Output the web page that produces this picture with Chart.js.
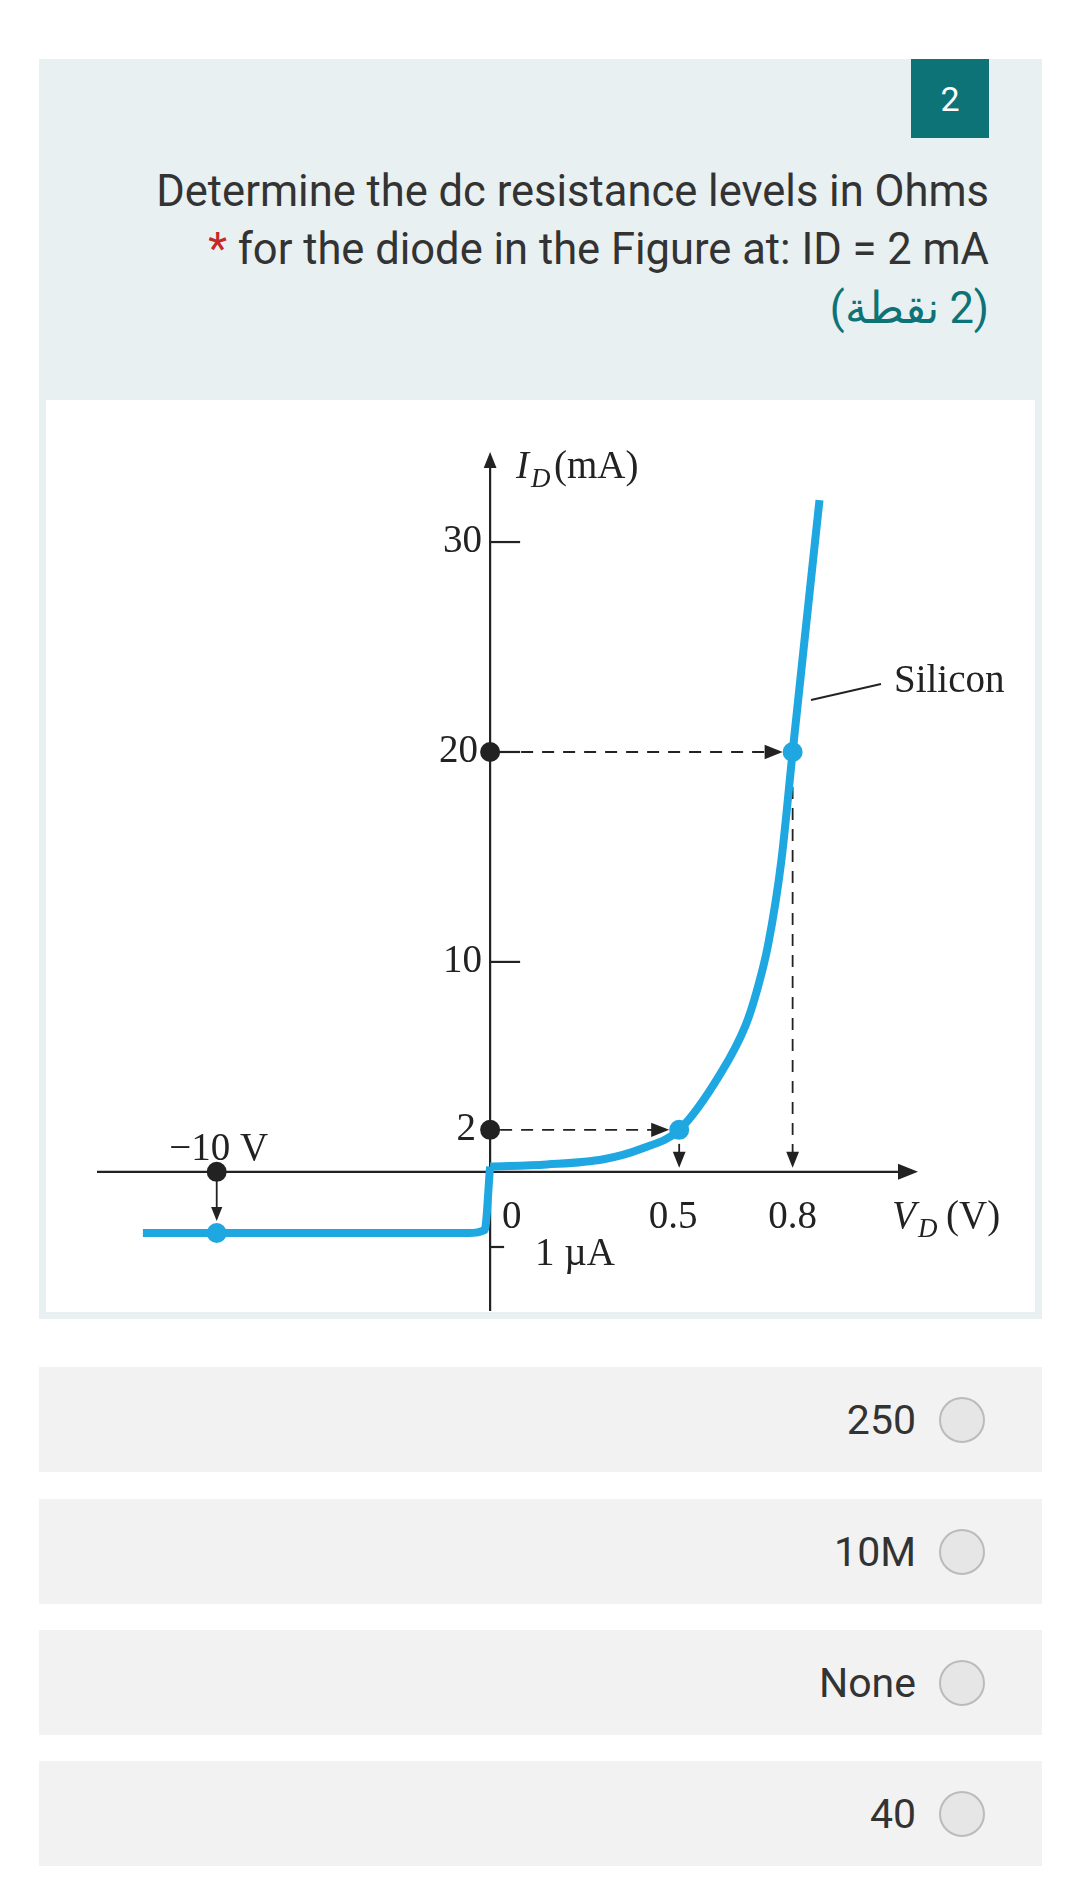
<!DOCTYPE html>
<html><head><meta charset="utf-8">
<script src="https://cdn.jsdelivr.net/npm/chart.js@4"></script>
<style>
body{margin:0;background:#fff;width:1080px;height:1903px;position:relative;font-family:Roboto,"Noto Sans",sans-serif;overflow:hidden}
.card{position:absolute;left:39px;top:59px;width:1003px;height:1260px;background:#e8f0f2}
.num{position:absolute;left:911px;top:59px;width:78px;height:79px;background:#0d7377;color:#fff;font-size:34px;display:flex;align-items:center;justify-content:center}
.t{position:absolute;right:91px;font-size:43.5px;color:#333;white-space:nowrap;text-align:right}
.img{position:absolute;left:46px;top:400px;width:989px;height:912px;background:#fff}
.opt{position:absolute;left:39px;width:1003px;height:105px;background:#f2f2f2}
.opt span{position:absolute;right:126px;top:50%;transform:translateY(-50%);font-size:41px;color:#333}
.opt i{position:absolute;left:900px;top:30px;width:42px;height:42px;border-radius:50%;border:2px solid #bbb;background:#e6e6e6}
canvas{position:absolute;left:46px;top:400px}
</style></head><body>
<div class="card"></div>
<div class="num">2</div>
<div class="t" style="top:166px">Determine the dc resistance levels in Ohms</div>
<div class="t" style="top:224px"><span style="color:#c62828">*</span> for the diode in the Figure at: ID = 2 mA</div>
<div class="t" style="top:283px;color:#0d7377" dir="rtl">(2 نقطة)</div>
<div class="img"></div>
<div class="opt" style="top:1367px"><span>250</span><i></i></div>
<div class="opt" style="top:1499px"><span>10M</span><i></i></div>
<div class="opt" style="top:1630px"><span>None</span><i></i></div>
<div class="opt" style="top:1761px"><span>40</span><i></i></div>
<canvas id="c" width="989" height="912"></canvas>
<script>
// Diode curve (V in volts, I in mA)
const reverseV = [-12.7, -10, -2, -0.8, -0.2, 0];
const reverseI = [-0.001, -0.001, -0.001, -0.001, -0.00095, 0.25];
const forwardV = [0, 0.15, 0.3, 0.4, 0.5, 0.61, 0.676, 0.705, 0.735, 0.77, 0.8, 0.871];
const forwardI = [0.25, 0.35, 0.6, 1.1, 2, 4.7, 7, 8.6, 10.8, 14.8, 20, 32];
const opV = [-10, 0.5, 0.8];
const opI = [-0.001, 2, 20];
const refV = [-10, 0, 0];
const refI = [0, 2, 20];
const yTicks = [10, 20, 30];
const xTickLabels = ['0.5', '0.8'];
// broken-scale transforms for the figure
const sx = v => v < 0 ? v * 0.0723 : v;
const sy = i => i < 0 ? i * 2913 : i;
const pts = (V, I) => V.map((v, k) => ({x: sx(v), y: sy(I[k])}));
const BLUE = '#1ea7e1';
const serif = '"Liberation Serif","DejaVu Serif",serif';

function arrow(ctx, x, y, dir, s) {
  ctx.save(); ctx.translate(x, y); ctx.rotate(dir);
  ctx.beginPath(); ctx.moveTo(0, 0); ctx.lineTo(-s, -s * 0.4); ctx.lineTo(-s, s * 0.4); ctx.closePath(); ctx.fill(); ctx.restore();
}
const fig = {
  id: 'fig',
  beforeDatasetsDraw(ch) {
    const c = ch.ctx, X = ch.scales.x, Y = ch.scales.y;
    const px = v => X.getPixelForValue(sx(v)), py = i => Y.getPixelForValue(sy(i));
    c.save(); c.strokeStyle = '#222'; c.fillStyle = '#222'; c.lineWidth = 2.2;
    const x0 = px(0), y0 = py(0);
    c.beginPath(); c.moveTo(x0, 911); c.lineTo(x0, 62); c.stroke(); arrow(c, x0, 52, -Math.PI / 2, 16);
    c.beginPath(); c.moveTo(51, y0); c.lineTo(860, y0); c.stroke(); arrow(c, 872, y0, 0, 20);
    yTicks.forEach(t => { c.beginPath(); c.moveTo(x0, py(t)); c.lineTo(x0 + 30, py(t)); c.stroke(); });
    c.beginPath(); c.moveTo(x0, py(-0.001) + 14); c.lineTo(x0 + 14, py(-0.001) + 14); c.stroke();
    c.setLineDash([12, 9]); c.lineWidth = 1.8;
    [[2, 0.5], [20, 0.8]].forEach(([i, v]) => {
      c.beginPath(); c.moveTo(x0 + 10, py(i)); c.lineTo(px(v) - 20, py(i)); c.stroke();
      c.beginPath(); c.moveTo(px(v), py(i) + 14); c.lineTo(px(v), y0 - 18); c.stroke();
    });
    c.setLineDash([]);
    [[2, 0.5], [20, 0.8]].forEach(([i, v]) => { arrow(c, px(v) - 10, py(i), 0, 18); arrow(c, px(v), y0 - 4, Math.PI / 2, 16); });
    c.beginPath(); c.moveTo(px(-10), y0 + 8); c.lineTo(px(-10), py(-0.001) - 22); c.stroke(); arrow(c, px(-10), py(-0.001) - 12, Math.PI / 2, 14);
    c.beginPath(); c.moveTo(765, 300); c.lineTo(835, 284); c.stroke();
    c.font = '39px ' + serif; c.textBaseline = 'middle';
    c.textAlign = 'right';
    c.fillText('30', x0 - 8, py(30)); c.fillText('20', x0 - 12, py(20)); c.fillText('10', x0 - 8, py(10)); c.fillText('2', x0 - 14, py(2));
    c.textAlign = 'center';
    c.fillText('\u221210 V', px(-10) + 2, 750);
    c.fillText(xTickLabels[0], px(0.5) - 6, 818); c.fillText(xTickLabels[1], px(0.8), 818);
    c.textAlign = 'left';
    c.fillText('0', x0 + 12, 818);
    c.fillText('1 \u00b5A', x0 + 45, 855);
    c.fillText('Silicon', 848, 282);
    c.font = 'italic 39px ' + serif; c.fillText('I', 470, 68);
    c.font = 'italic 27px ' + serif; c.fillText('D', 485, 80);
    c.font = '39px ' + serif; c.fillText('(mA)', 508, 68);
    c.font = 'italic 39px ' + serif; c.fillText('V', 846, 818);
    c.font = 'italic 27px ' + serif; c.fillText('D', 872, 830);
    c.font = '39px ' + serif; c.fillText('(V)', 900, 818);
    c.restore();
  }
};
new Chart(document.getElementById('c'), {
  type: 'scatter',
  data: { datasets: [
    { data: pts(reverseV, reverseI), showLine: true, borderColor: BLUE, borderWidth: 8, pointRadius: 0, cubicInterpolationMode: 'monotone' },
    { data: pts(forwardV, forwardI), showLine: true, borderColor: BLUE, borderWidth: 8, pointRadius: 0, cubicInterpolationMode: 'monotone' },
    { data: pts(opV, opI), pointRadius: 10, backgroundColor: BLUE, borderWidth: 0 },
    { data: pts(refV, refI), pointRadius: 10, backgroundColor: '#222', borderWidth: 0 }
  ]},
  options: {
    responsive: false, devicePixelRatio: 1, animation: false,
    layout: { padding: 0 },
    plugins: { legend: { display: false }, tooltip: { enabled: false } },
    scales: {
      x: { type: 'linear', display: false, min: -1.148, max: 1.4145 },
      y: { type: 'linear', display: false, min: -6.2, max: 36.29 }
    }
  },
  plugins: [fig]
});
</script></body></html>
